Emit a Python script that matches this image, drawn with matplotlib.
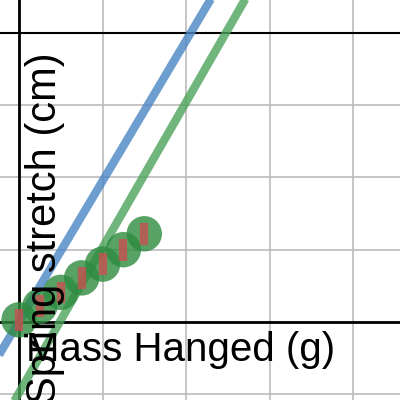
import matplotlib
matplotlib.use("Agg")
import matplotlib.pyplot as plt

mass = [0, 0.25, 0.5, 0.75, 1.0, 1.25, 1.5]
stretch = [0.03, 0.22, 0.41, 0.61, 0.80, 1.00, 1.22]
err = [0.15]*7
blue_line = (1.94, 0.01)
green_line = (2.01, -0.98)

fig = plt.figure(figsize=(4, 4), dpi=100)
ax = fig.add_axes([0, 0, 1, 1])
ax.set_xlim(-0.228, 4.563)
ax.set_ylim(-1.079, 4.454)
ax.axis('off')
for gx in range(0, 5):
    ax.axvline(gx, color='#bbbbbb', lw=1.2, zorder=0)
for gy in range(-1, 5):
    ax.axhline(gy, color='#bbbbbb', lw=1.2, zorder=0)
ax.axvline(0, color='black', lw=2, zorder=1)
ax.axhline(0, color='black', lw=2, zorder=1)
ax.axhline(4, color='black', lw=1.5, zorder=1)
xs = [-1, 5]
for (m, b), c in [(blue_line, '#4a86c5'), (green_line, '#4ca35a')]:
    ax.plot(xs, [m*x+b for x in xs], color=c, lw=6, alpha=0.8, solid_capstyle='butt', zorder=2)
ax.scatter(mass, stretch, s=650, color='#2e8b40', alpha=0.8, zorder=3, edgecolors='none')
ax.errorbar(mass, stretch, yerr=err, fmt='none', ecolor='#c75050', elinewidth=6, alpha=0.8, zorder=4)
ax.text(0.065, 0.125, "Mass Hanged (g)", transform=ax.transAxes, fontsize=29,
        family='Liberation Sans', va='center', ha='left', zorder=5)
ax.text(0.112, -0.01, "Spring stretch (cm)", transform=ax.transAxes, fontsize=30,
        family='Liberation Sans', va='bottom', ha='center', rotation=90, zorder=5)
fig.savefig("out.png", dpi=100)
